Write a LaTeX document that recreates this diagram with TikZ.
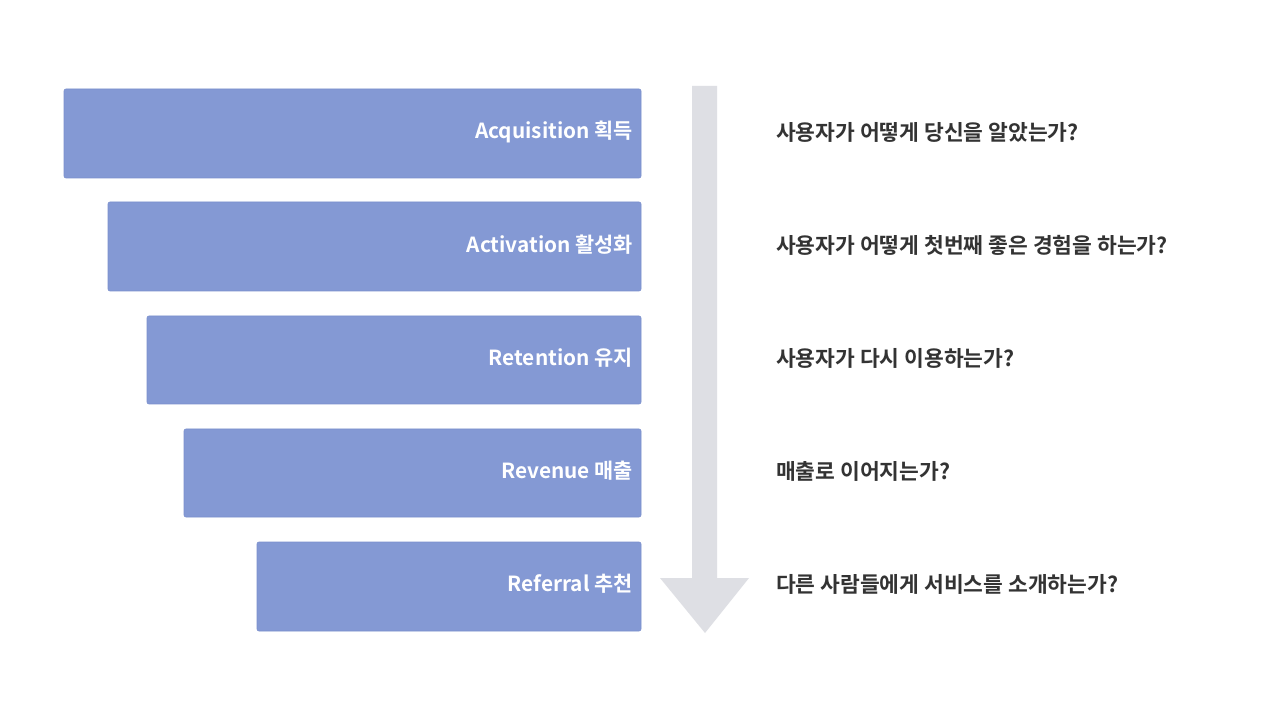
\documentclass[tikz,border=0pt]{standalone}
\usepackage{fontspec}
\setmainfont{Noto Sans CJK KR}[BoldFont={* Bold}]
\begin{document}
\begin{tikzpicture}[x=1pt,y=-1pt,
  stage/.style={fill=stagefill,draw=stageedge,line width=0.6pt,rounded corners=2pt},
  lbl/.style={anchor=east,text=white,font=\fontsize{20.8}{24}\selectfont\bfseries,inner sep=0pt},
  qtext/.style={anchor=west,text=qcol,font=\fontsize{21.5}{24}\selectfont\bfseries,inner sep=0pt}]
\definecolor{stagefill}{HTML}{8499D4}
\definecolor{stageedge}{HTML}{7A8FCC}
\definecolor{arrowcol}{HTML}{DEDFE4}
\definecolor{qcol}{HTML}{333333}
\useasboundingbox[fill=white] (0,0) rectangle (1280,708);
\fill[arrowcol] (692,86) -- (717,86) -- (717,578) -- (749,578) -- (705,633) -- (660,578) -- (692,578) -- cycle;
\draw[stage] (64,89) rectangle (641,178);
\draw[stage] (108,202) rectangle (641,291);
\draw[stage] (147,316) rectangle (641,404);
\draw[stage] (184,429) rectangle (641,517);
\draw[stage] (257,542) rectangle (641,631);
\node[lbl] (l1) at (633,132) {Acquisition 획득};
\node[lbl] (l2) at (633,245) {Activation 활성화};
\node[lbl] (l3) at (633,358) {Retention 유지};
\node[lbl] (l4) at (633,471) {Revenue 매출};
\node[lbl] (l5) at (633,584) {Referral 추천};
\node[qtext] (q1) at (776,132) {사용자가 어떻게 당신을 알았는가?};
\node[qtext] (q2) at (776,245) {사용자가 어떻게 첫번째 좋은 경험을 하는가?};
\node[qtext] (q3) at (776,358) {사용자가 다시 이용하는가?};
\node[qtext] (q4) at (776,471) {매출로 이어지는가?};
\node[qtext] (q5) at (776,584) {다른 사람들에게 서비스를 소개하는가?};
\end{tikzpicture}
\end{document}
